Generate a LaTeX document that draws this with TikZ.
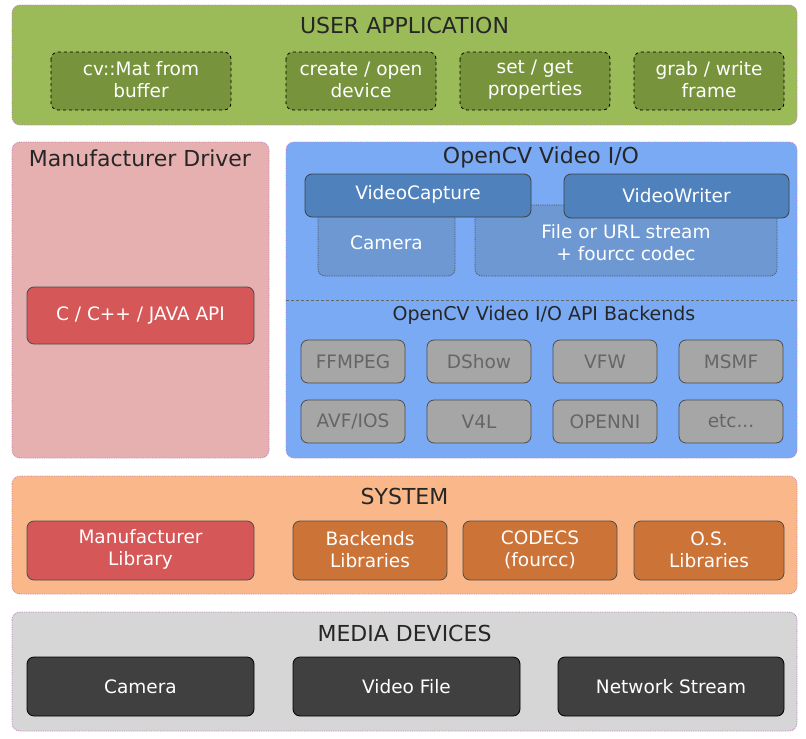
\documentclass[tikz,border=0pt]{standalone}
\usepackage{fontspec}
\setmainfont{DejaVu Sans}
\begin{document}
\begin{tikzpicture}[x=1pt,y=-1pt,
 panel/.style={draw=violet!50,densely dotted,rounded corners=8pt,line width=0.8pt},
 ibox/.style={rounded corners=7pt,line width=0.8pt},
 ttl/.style={font=\fontsize{22}{25}\selectfont,text=black!85},
 wt/.style={text=white,font=\fontsize{18.5}{22}\selectfont,align=center},
 gt/.style={text=black!60,font=\fontsize{18.5}{22}\selectfont,align=center}]
\useasboundingbox (0,0) rectangle (806,739);
\fill[white] (0,0) rectangle (806,739);
\definecolor{grn}{HTML}{9BBB59}\definecolor{dgrn}{HTML}{77933C}
\definecolor{pnk}{HTML}{E6B0B0}\definecolor{rd}{HTML}{D55757}
\definecolor{blu}{HTML}{7BAAF5}\definecolor{dblu}{HTML}{4F81BD}\definecolor{mblu}{HTML}{6D98D2}
\definecolor{gry}{HTML}{A6A6A6}\definecolor{org}{HTML}{FAB88A}\definecolor{dorg}{HTML}{CC7338}
\definecolor{lgry}{HTML}{D6D6D6}\definecolor{dgry}{HTML}{404040}
% user application
\draw[panel,fill=grn] (12,5) rectangle (797,125);
\node[ttl] (ua) at (404.5,25) {USER APPLICATION};
\foreach \a/\b/\t [count=\i] in {51/231/{cv::Mat from\\buffer},286/436/{create / open\\device},460/610/{set / get\\properties},634/784/{grab / write\\frame}}
 {\draw[ibox,dashed,fill=dgrn] (\a,52) rectangle (\b,110);
  \node[wt] (u\i) at ({(\a+\b)/2},80) {\t};}
% manufacturer
\draw[panel,fill=pnk] (12,142) rectangle (269,458);
\node[ttl] (md) at (140,158) {Manufacturer Driver};
\draw[ibox,fill=rd,draw=black!70] (27,287) rectangle (254,344);
\node[wt] (api) at (140.5,315.5) {C / C++ / JAVA API};
% opencv
\draw[panel,fill=blu] (286,142) rectangle (797,458);
\node[ttl] (ov) at (541,157) {OpenCV Video I/O};
\draw[ibox,densely dotted,fill=mblu,draw=black!70] (318,205) rectangle (455,276);
\node[wt] (cam) at (386.5,243) {Camera};
\draw[ibox,densely dotted,fill=mblu,draw=black!70] (475,205) rectangle (777,276);
\node[wt] (fil) at (626,243) {File or URL stream\\+ fourcc codec};
\draw[ibox,fill=dblu,draw=black!75] (305,174) rectangle (531,217);
\node[wt] (vc) at (418,194) {VideoCapture};
\draw[ibox,fill=dblu,draw=black!75] (564,174) rectangle (789,218);
\node[wt] (vw) at (676.5,196) {VideoWriter};
\draw[densely dashed,draw=black!60] (286,300) -- (797,300);
\node[font=\fontsize{19}{22}\selectfont,text=black!85] (ob) at (544,315) {OpenCV Video I/O API Backends};
\foreach \a/\t/\s [count=\i] in {301/FFMPEG/{AVF/IOS},427/DShow/V4L,553/VFW/OPENNI,679/MSMF/{etc{.}{.}{.}}}
 {\draw[ibox,fill=gry,draw=black!70] (\a,340) rectangle (\a+104,383);
  \node[gt] (b\i) at (\a+52,361.5) {\t};
  \draw[ibox,fill=gry,draw=black!70] (\a,400) rectangle (\a+104,443);
  \node[gt] (c\i) at (\a+52,421.5) {\s};}
% system
\draw[panel,fill=org] (12,476) rectangle (797,594);
\node[ttl] (sy) at (404.5,496) {SYSTEM};
\draw[ibox,fill=rd,draw=black!70] (27,521) rectangle (254,580);
\node[wt] (ml) at (140.5,549) {Manufacturer\\Library};
\foreach \a/\b/\t [count=\i] in {293/447/{Backends\\Libraries},463/617/{CODECS\\(fourcc)},634/784/{O.S.\\Libraries}}
 {\draw[ibox,fill=dorg,draw=black!70] (\a,521) rectangle (\b,580);
  \node[wt] (s\i) at ({(\a+\b)/2},550) {\t};}
% media
\draw[panel,fill=lgry] (12,612) rectangle (797,731);
\node[ttl] (me) at (404.5,633) {MEDIA DEVICES};
\foreach \a/\b/\t [count=\i] in {27/254/Camera,293/520/Video File,558/784/Network Stream}
 {\draw[ibox,fill=dgry,draw=black] (\a,657) rectangle (\b,716);
  \node[wt] (m\i) at ({(\a+\b)/2},687) {\t};}
\end{tikzpicture}
\end{document}
